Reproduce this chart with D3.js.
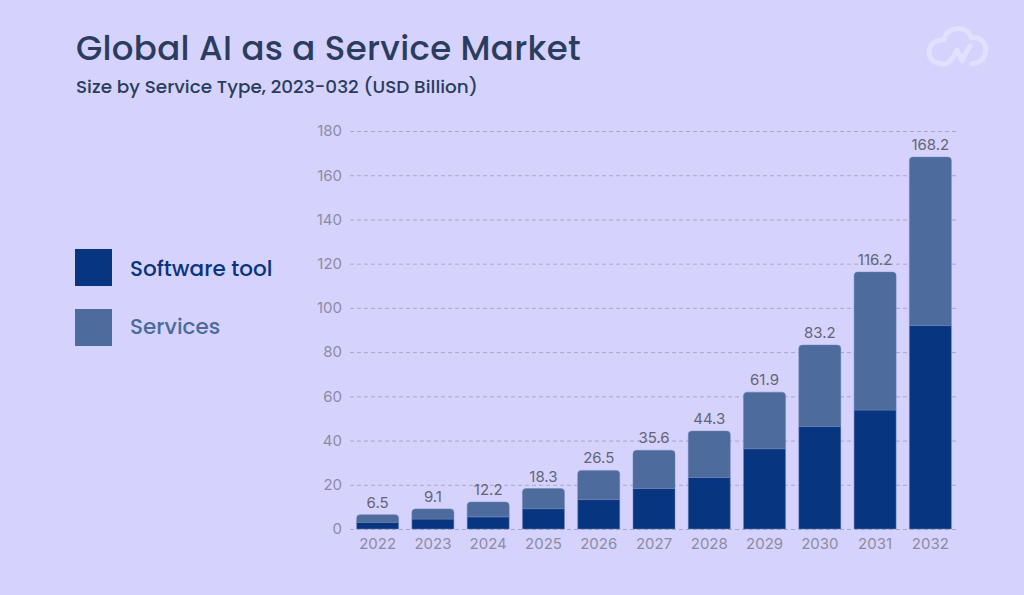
<!DOCTYPE html>
<html>
<head>
<meta charset="utf-8">
<script src="https://cdn.jsdelivr.net/npm/d3@7"></script>
<style>
  html, body { margin: 0; padding: 0; background: #d5d3fd; }
  svg { display: block; font-family: Poppins, Inter, "Noto Sans", sans-serif; }
</style>
</head>
<body>
<svg id="chart" width="1024" height="595"></svg>
<script>
// values
const years = ["2022", "2023", "2024", "2025", "2026", "2027", "2028", "2029", "2030", "2031", "2032"];
const software = [3.0, 4.5, 5.5, 9.2, 13.3, 18.3, 23.3, 36.3, 46.4, 53.8, 92.0];
const totals = [6.5, 9.1, 12.2, 18.3, 26.5, 35.6, 44.3, 61.9, 83.2, 116.2, 168.2];
const yTicks = [0, 20, 40, 60, 80, 100, 120, 140, 160, 180];
const seriesNames = ["Software tool", "Services"];
const colors = ["#08357f", "#4d6b9c"];

const svg = d3.select("#chart");
const margin = { left: 350, right: 66, top: 131, bottom: 66 };
const width = 1024, height = 595;

const data = years.map((y, i) => ({
  year: y,
  software: software[i],
  services: +(totals[i] - software[i]).toFixed(1),
  total: totals[i]
}));

const x = d3.scaleBand()
  .domain(years)
  .range([margin.left, width - margin.right])
  .paddingInner(0.24)
  .paddingOuter(0.12);

const y = d3.scaleLinear()
  .domain([0, 180])
  .range([height - margin.bottom, margin.top]);

// title
svg.append("text")
  .attr("x", 76).attr("y", 60)
  .attr("fill", "#2b3d5e")
  .style("font-size", "34px").style("font-weight", 500)
  .style("letter-spacing", "0.3px")
  .text("Global AI as a Service Market");
svg.append("text")
  .attr("x", 76).attr("y", 92.5)
  .attr("fill", "#2b3d5e")
  .style("font-size", "18.4px").style("font-weight", 500)
  .text("Size by Service Type, 2023-032 (USD Billion)");

// logo (cloud outline)
svg.append("path")
  .attr("d", "M944,64 C922,64 926,38 944,40 C946,26 968,24 971,38 C989,34 992,62 972,64 M944,64 C950,64 954,56 957,50 L962,61 C964,54 968,50 970,46")
  .attr("fill", "none")
  .attr("stroke", "#e6e6ff")
  .attr("stroke-width", 5)
  .attr("stroke-linecap", "round")
  .attr("stroke-linejoin", "round")
  .attr("opacity", 0.7);

// gridlines + y axis labels
const yAxis = svg.append("g")
  .attr("transform", `translate(${margin.left},0)`)
  .call(d3.axisLeft(y).tickValues(yTicks).tickSize(-(width - margin.right - margin.left)).tickPadding(8));
yAxis.select(".domain").remove();
yAxis.selectAll(".tick line")
  .attr("stroke", "#a9a7c9")
  .attr("stroke-dasharray", "4,3");
yAxis.selectAll(".tick text")
  .attr("fill", "#8d8ba3")
  .style("font-size", "15px")
  .style("font-family", "Inter, 'Noto Sans', sans-serif");

// x axis labels
const xAxis = svg.append("g")
  .attr("transform", `translate(0,${height - margin.bottom})`)
  .call(d3.axisBottom(x).tickSize(0).tickPadding(9));
xAxis.select(".domain").remove();
xAxis.selectAll(".tick text")
  .attr("fill", "#8d8ba3")
  .style("font-size", "15px")
  .style("font-family", "Inter, 'Noto Sans', sans-serif");

// stacked bars
const stack = d3.stack().keys(["software", "services"]);
const layers = stack(data);
const r = 3.5;

function roundTop(x0, y0, w, h, rr) {
  rr = Math.min(rr, h);
  return `M${x0},${y0 + h} V${y0 + rr} Q${x0},${y0} ${x0 + rr},${y0} H${x0 + w - rr} Q${x0 + w},${y0} ${x0 + w},${y0 + rr} V${y0 + h} Z`;
}

svg.append("g").selectAll("g")
  .data(layers)
  .join("g")
  .attr("fill", (d, i) => colors[i])
  .selectAll("path")
  .data((d, i) => d.map(v => ({ v, i })))
  .join("path")
  .attr("d", d => {
    const x0 = x(d.v.data.year), w = x.bandwidth();
    const y0 = y(d.v[1]), h = y(d.v[0]) - y(d.v[1]);
    return d.i === 1 ? roundTop(x0, y0, w, h, r) : `M${x0},${y0}h${w}v${h}h${-w}Z`;
  })
  .attr("stroke", "#6e86b8")
  .attr("stroke-opacity", 0.5)
  .attr("stroke-width", 1);

// total labels
svg.append("g").selectAll("text")
  .data(data)
  .join("text")
  .attr("x", d => x(d.year) + x.bandwidth() / 2)
  .attr("y", d => y(d.total) - 7)
  .attr("text-anchor", "middle")
  .attr("fill", "#646478")
  .style("font-size", "15px")
  .style("font-family", "Inter, 'Noto Sans', sans-serif")
  .text(d => d.total);

// legend
const legend = svg.append("g").selectAll("g")
  .data(seriesNames)
  .join("g")
  .attr("transform", (d, i) => `translate(75,${249 + i * 60})`);
legend.append("rect")
  .attr("width", 37).attr("height", 37)
  .attr("fill", (d, i) => colors[i]);
legend.append("text")
  .attr("x", 55).attr("y", (d, i) => 27 - i * 2)
  .attr("fill", (d, i) => colors[i])
  .style("font-size", "21.5px").style("font-weight", 500)
  .text(d => d);
</script>
</body>
</html>
